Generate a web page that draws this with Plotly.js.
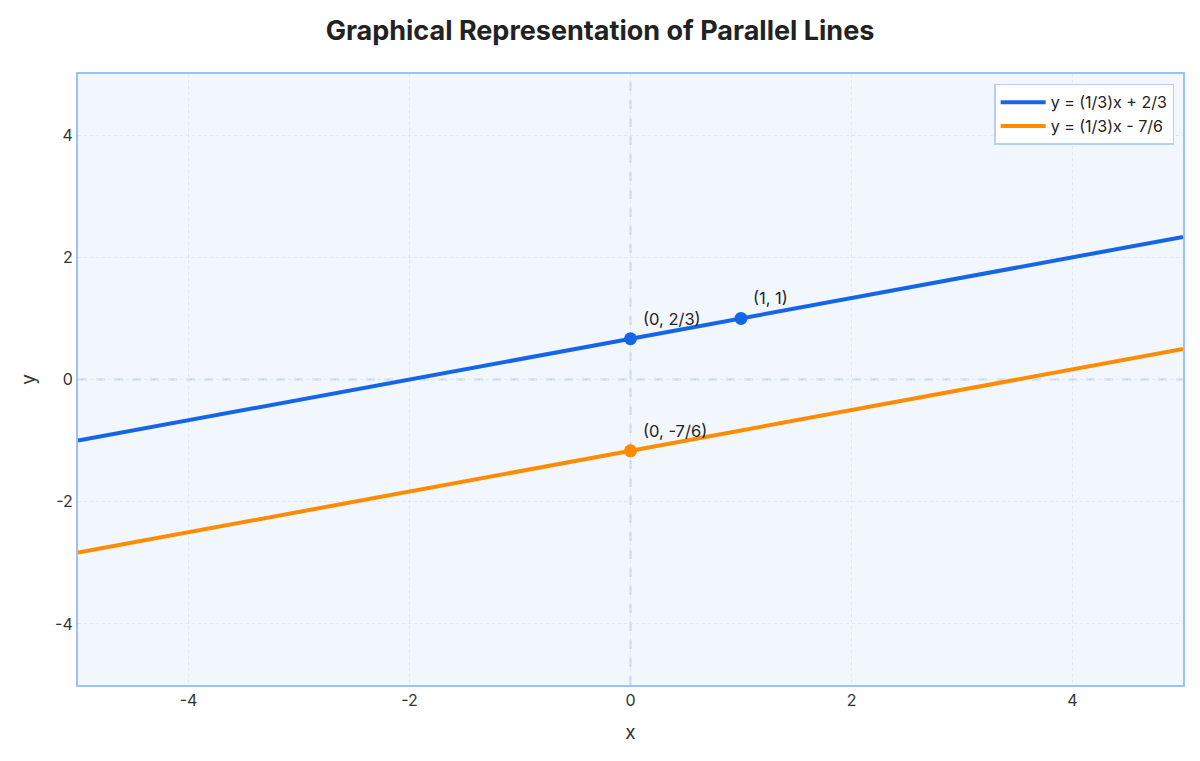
<!DOCTYPE html>
<html>
<head>
<meta charset="utf-8">
<script src="https://cdn.plot.ly/plotly-3.0.1.min.js"></script>
<style>
  html, body { margin: 0; padding: 0; background: #ffffff; }
  #chart { width: 1200px; height: 761px; }
</style>
</head>
<body>
<div id="chart"></div>
<script>
// line end points
var x_line = [-5, 5];
var y_line1 = [-1, 2.3333];
var y_line2 = [-2.8333, 0.5];

// marked points
var x_pts1 = [0, 1];
var y_pts1 = [0.6667, 1];
var txt_pts1 = ["(0, 2/3)", "(1, 1)"];
var x_pts2 = [0];
var y_pts2 = [-1.1667];
var txt_pts2 = ["(0, -7/6)"];

// ticks (plain hyphen minus, as in the picture)
var tick_vals = [-4, -2, 0, 2, 4];
var tick_text = ['-4', '-2', '0', '2', '4'];

var blue = '#1565e8';
var orange = '#ff8c00';
var fontFam = 'Inter, "Noto Sans", sans-serif';

var line1 = {
  x: x_line, y: y_line1, mode: 'lines', name: 'y = (1/3)x + 2/3',
  line: {color: blue, width: 4}
};
var line2 = {
  x: x_line, y: y_line2, mode: 'lines', name: 'y = (1/3)x - 7/6',
  line: {color: orange, width: 4}
};
var pts1 = {
  x: x_pts1, y: y_pts1, mode: 'markers', showlegend: false,
  marker: {color: blue, size: 13}
};
var pts2 = {
  x: x_pts2, y: y_pts2, mode: 'markers', showlegend: false,
  marker: {color: orange, size: 13}
};

var annots = [];
function addLabels(xs, ys, ts) {
  for (var i = 0; i < xs.length; i++) {
    annots.push({
      x: xs[i], y: ys[i], text: ts[i], showarrow: false,
      xanchor: 'left', yanchor: 'bottom', xshift: 10, yshift: 8,
      font: {family: fontFam, size: 16.5, color: '#222'}
    });
  }
}
addLabels(x_pts1, y_pts1, txt_pts1);
addLabels(x_pts2, y_pts2, txt_pts2);

var axisCommon = {
  range: [-5, 5],
  tickmode: 'array',
  tickvals: tick_vals,
  ticktext: tick_text,
  showgrid: true,
  gridcolor: '#e0e7f1',
  griddash: 'dot',
  gridwidth: 1,
  zeroline: false,
  showline: true,
  linecolor: '#9fc0f7',
  linewidth: 2,
  mirror: true,
  ticks: '',
  tickfont: {family: fontFam, size: 16, color: '#333'}
};

var layout = {
  width: 1200, height: 761,
  margin: {l: 78, r: 17, t: 74, b: 76},
  paper_bgcolor: '#ffffff',
  plot_bgcolor: '#f2f7fe',
  title: {
    text: '<b>Graphical Representation of Parallel Lines</b>',
    x: 0.5, xanchor: 'center', y: 0.96, yanchor: 'middle',
    font: {family: fontFam, size: 27, color: '#222'}
  },
  xaxis: Object.assign({}, axisCommon, {
    title: {text: 'x', font: {family: fontFam, size: 19, color: '#333'}, standoff: 16}
  }),
  yaxis: Object.assign({}, axisCommon, {
    title: {text: 'y', font: {family: fontFam, size: 19, color: '#333'}, standoff: 14}
  }),
  shapes: [
    {type: 'line', xref: 'x', yref: 'paper', x0: 0, x1: 0, y0: 0, y1: 1,
     line: {color: '#c0d6f6', width: 2, dash: 'dash'}, layer: 'between'},
    {type: 'line', xref: 'paper', yref: 'y', x0: 0, x1: 1, y0: 0, y1: 0,
     line: {color: '#c0d6f6', width: 2, dash: 'dash'}, layer: 'between'}
  ],
  annotations: annots,
  legend: {
    x: 0.992, xanchor: 'right', y: 0.984, yanchor: 'top',
    bgcolor: '#ffffff', bordercolor: '#b8cff5', borderwidth: 1.5,
    itemwidth: 45,
    font: {family: fontFam, size: 16, color: '#222'}
  },
  showlegend: true
};

Plotly.newPlot('chart', [line1, line2, pts1, pts2], layout, {displayModeBar: false});
</script>
</body>
</html>
